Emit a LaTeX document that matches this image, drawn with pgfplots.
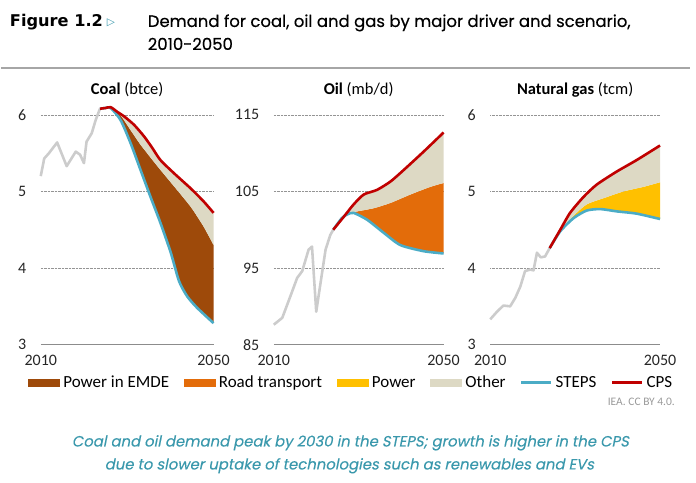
\documentclass[border=0pt]{standalone}
\usepackage{fontspec}
\setmainfont{Carlito}
\newfontfamily\titlefont[FakeBold=0.35]{Poppins}
\newfontfamily\capfont[FakeSlant=0.2, FakeBold=0.25]{Poppins}
\newfontfamily\figfont{DejaVu Sans}
\usepackage{pgfplots}
\pgfplotsset{compat=1.18}
\usepgfplotslibrary{fillbetween}
\definecolor{emde}{RGB}{158,74,10}
\definecolor{road}{RGB}{227,108,10}
\definecolor{pow}{RGB}{255,192,0}
\definecolor{other}{RGB}{221,217,196}
\definecolor{steps}{RGB}{75,172,198}
\definecolor{cps}{RGB}{192,0,0}
\definecolor{histc}{RGB}{204,204,204}
\definecolor{capteal}{RGB}{58,152,172}
\pgfplotsset{
  panel/.style={
    scale only axis, height=230pt,
    xmin=2010, xmax=2050, xtick={2010,2050},
    axis x line*=bottom, axis y line*=left,
    y axis line style={draw=none},
    x axis line style={draw=black!45, line width=0.9pt},
    major tick length=0pt,
    ymajorgrids, grid style={densely dotted, black!42, line width=0.7pt},
    /pgf/number format/assume math mode=true,
    /pgf/number format/1000 sep={},
    ticklabel style={font=\fontsize{16}{16}\selectfont, text=black!85},
    yticklabel style={xshift=-11pt},
    xticklabel style={yshift=-7pt},
    extra tick style={grid=none},
    title style={at={(0.5,1)}, anchor=base, yshift=14pt, font=\fontsize{16.5}{18}\selectfont},
    clip=false,
  },
  histline/.style={histc, line width=2.6pt, line join=round, forget plot},
  stepsline/.style={steps, line width=2.6pt, line join=round, smooth, tension=0.4, forget plot},
  cpsline/.style={cps, line width=2.6pt, line join=round, smooth, tension=0.4, forget plot},
  hidden/.style={draw=none, smooth, tension=0.4, forget plot},
  legfill/.style={legend image code/.code={\fill[##1] (0pt,-3.6pt) rectangle (31pt,3.6pt); \path (33pt,0pt);}},
  legline/.style={legend image code/.code={\draw[##1] (0pt,0pt) -- (30pt,0pt); \path (31pt,0pt);}},
}
\begin{document}
\begin{tikzpicture}
\path (0pt,0pt) rectangle (696pt,483pt);
% header
\node[anchor=base west, inner sep=0pt, font=\figfont\bfseries\fontsize{16.2}{18}\selectfont] at (9pt,456pt) {Figure 1.2};
\node[anchor=base west, inner sep=0pt, text=capteal, font=\figfont\bfseries\fontsize{10.5}{12}\selectfont] at (106pt,457.5pt) {▷};
\node[anchor=base west, inner sep=0pt, font=\titlefont\fontsize{16.5}{18}\selectfont] at (147pt,456pt) {Demand for coal, oil and gas by major driver and scenario,};
\node[anchor=base west, inner sep=0pt, font=\titlefont\fontsize{16.5}{18}\selectfont] at (147pt,433pt) {2010-2050};
\draw[black!35, line width=1.6pt] (0pt,415pt) -- (690pt,415pt);

% COAL
\begin{axis}[panel, at={(40pt,138pt)}, anchor=south west, width=173pt,
  ymin=3, ymax=6, ytick={4,5,6}, extra y ticks={3},
  title={\textbf{Coal} (btce)},
  legend columns=-1,
  legend style={at={(axis description cs:-0.075,-0.165)}, anchor=west, draw=none, fill=none,
    inner sep=0pt, font=\fontsize{17}{18}\selectfont,
    /tikz/every even column/.append style={column sep=12.5pt}},
  legend cell align=left]
\addplot[hidden, name path=coalsteps] coordinates {(2023.7,6.08) (2025,6.09) (2026.2,6.09) (2028.5,5.93) (2030.8,5.63) (2033.1,5.28) (2035.4,4.93) (2037.7,4.59) (2040.1,4.20) (2042,3.83) (2043.9,3.63) (2046.2,3.48) (2050,3.28)};
\addplot[hidden, name path=coaltop] coordinates {(2023.7,6.08) (2025,6.09) (2026.2,6.09) (2028.5,5.99) (2030.8,5.80) (2033.1,5.61) (2037,5.33) (2040.8,5.07) (2044.7,4.80) (2047.7,4.54) (2050,4.30)};
\addplot[hidden, name path=coalcps] coordinates {(2023.7,6.08) (2025,6.09) (2026.2,6.10) (2027.7,6.04) (2029.3,5.98) (2031.6,5.87) (2033.9,5.72) (2035.8,5.57) (2037.7,5.41) (2040.8,5.24) (2044.7,5.04) (2047.7,4.87) (2050,4.72)};
\addplot[emde, forget plot] fill between[of=coalsteps and coaltop];
\addplot[other, forget plot] fill between[of=coaltop and coalcps];
\addplot[histline] coordinates {(2010,5.20) (2010.8,5.43) (2011.9,5.50) (2013.8,5.64) (2016.0,5.33) (2018.1,5.52) (2019.1,5.48) (2020.0,5.37) (2020.6,5.65) (2021.8,5.76) (2022.7,5.93) (2023.7,6.08)};
\addplot[stepsline] coordinates {(2023.7,6.08) (2025,6.09) (2026.2,6.09) (2028.5,5.93) (2030.8,5.63) (2033.1,5.28) (2035.4,4.93) (2037.7,4.59) (2040.1,4.20) (2042,3.83) (2043.9,3.63) (2046.2,3.48) (2050,3.28)};
\addplot[cpsline] coordinates {(2023.7,6.08) (2025,6.09) (2026.2,6.10) (2027.7,6.04) (2029.3,5.98) (2031.6,5.87) (2033.9,5.72) (2035.8,5.57) (2037.7,5.41) (2040.8,5.24) (2044.7,5.04) (2047.7,4.87) (2050,4.72)};
\addlegendimage{legfill, emde}\addlegendentry{Power in EMDE}
\addlegendimage{legfill, road}\addlegendentry{Road transport}
\addlegendimage{legfill, pow}\addlegendentry{Power}
\addlegendimage{legfill, other}\addlegendentry{Other}
\addlegendimage{legline, steps, line width=2.6pt}\addlegendentry{STEPS}
\addlegendimage{legline, cps, line width=2.6pt}\addlegendentry{CPS}
\end{axis}

% OIL
\begin{axis}[panel, at={(273.3pt,138pt)}, anchor=south west, width=170pt,
  ymin=85, ymax=115, ytick={95,105,115}, extra y ticks={85},
  title={\textbf{Oil} (mb/d)}]
\addplot[hidden, name path=oilsteps] coordinates {(2024,100.0) (2026,101.5) (2027.3,102.0) (2028.8,102.2) (2032,101.3) (2035.9,99.6) (2039.8,98.0) (2045.3,97.2) (2050,96.9)};
\addplot[hidden, name path=oiltop] coordinates {(2024,100.0) (2026,101.5) (2027.3,102.0) (2028.8,102.3) (2033.5,102.8) (2037.5,103.5) (2042.2,104.6) (2046.9,105.6) (2050,106.1)};
\addplot[hidden, name path=oilcps] coordinates {(2024,100.0) (2026.5,101.7) (2028.8,103.3) (2031.2,104.6) (2034.3,105.2) (2037.5,106.3) (2040.6,107.8) (2045.3,110.2) (2050,112.7)};
\addplot[road, forget plot] fill between[of=oilsteps and oiltop];
\addplot[other, forget plot] fill between[of=oiltop and oilcps];
\addplot[histline] coordinates {(2010,87.6) (2012,88.5) (2013.9,91.3) (2015.5,93.7) (2016.7,94.6) (2018.2,97.4) (2019.0,97.8) (2020.0,89.3) (2021,93.0) (2022.2,97.4) (2023.3,99.3) (2024,100.0)};
\addplot[stepsline] coordinates {(2024,100.0) (2026,101.5) (2027.3,102.0) (2028.8,102.2) (2032,101.3) (2035.9,99.6) (2039.8,98.0) (2045.3,97.2) (2050,96.9)};
\addplot[cpsline] coordinates {(2024,100.0) (2026.5,101.7) (2028.8,103.3) (2031.2,104.6) (2034.3,105.2) (2037.5,106.3) (2040.6,107.8) (2045.3,110.2) (2050,112.7)};
\end{axis}

% GAS
\begin{axis}[panel, at={(490pt,138pt)}, anchor=south west, width=170pt,
  ymin=3, ymax=6, ytick={4,5,6}, extra y ticks={3},
  title={\textbf{Natural gas} (tcm)}]
\addplot[hidden, name path=gassteps] coordinates {(2024,4.26) (2026.5,4.48) (2029.6,4.65) (2032.7,4.75) (2035.9,4.77) (2039.8,4.74) (2044.5,4.71) (2050,4.64)};
\addplot[hidden, name path=gastop] coordinates {(2024,4.26) (2026.5,4.48) (2029.6,4.68) (2032.7,4.83) (2036.6,4.91) (2041.4,5.00) (2046.1,5.06) (2050,5.12)};
\addplot[hidden, name path=gascps] coordinates {(2024,4.26) (2026.5,4.50) (2028.8,4.72) (2032,4.93) (2035.1,5.09) (2039.8,5.26) (2044.5,5.41) (2050,5.60)};
\addplot[pow, forget plot] fill between[of=gassteps and gastop];
\addplot[other, forget plot] fill between[of=gastop and gascps];
\addplot[histline] coordinates {(2010,3.33) (2011.6,3.43) (2013.1,3.51) (2014.7,3.50) (2015.9,3.61) (2017.1,3.76) (2018.2,3.96) (2019.4,3.98) (2020.2,3.97) (2021,4.20) (2021.9,4.14) (2022.9,4.15) (2024,4.26)};
\addplot[stepsline] coordinates {(2024,4.26) (2026.5,4.48) (2029.6,4.65) (2032.7,4.75) (2035.9,4.77) (2039.8,4.74) (2044.5,4.71) (2050,4.64)};
\addplot[cpsline] coordinates {(2024,4.26) (2026.5,4.50) (2028.8,4.72) (2032,4.93) (2035.1,5.09) (2039.8,5.26) (2044.5,5.41) (2050,5.60)};
\end{axis}

% footer
\node[anchor=base east, inner sep=0pt, text=black!40, font=\fontsize{11.5}{12}\selectfont] at (675pt,77pt) {IEA. CC BY 4.0.};
\node[anchor=base, inner sep=0pt, text=capteal, font=\capfont\fontsize{14.9}{16}\selectfont] at (350pt,36pt) {Coal and oil demand peak by 2030 in the STEPS; growth is higher in the CPS};
\node[anchor=base, inner sep=0pt, text=capteal, font=\capfont\fontsize{14.9}{16}\selectfont] at (349pt,13pt) {due to slower uptake of technologies such as renewables and EVs};
\end{tikzpicture}
\end{document}
